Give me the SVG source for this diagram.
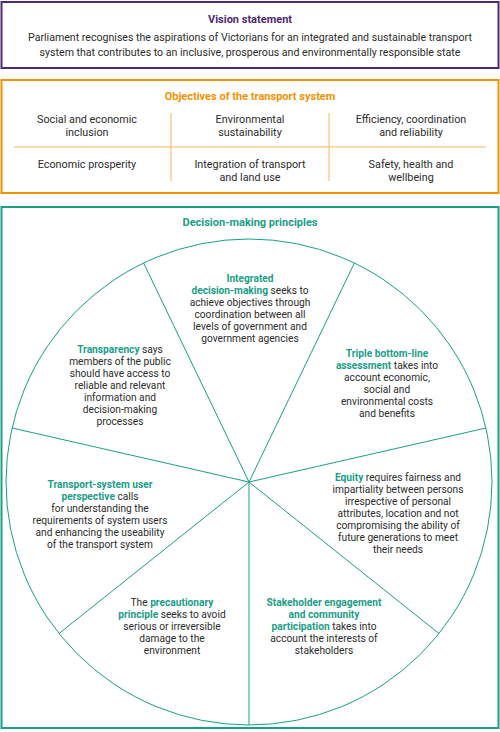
<svg xmlns="http://www.w3.org/2000/svg" width="500" height="732" viewBox="0 0 500 732">
<style>
text{font-family:Roboto,"Open Sans","DejaVu Sans",sans-serif;font-size:10.2px;fill:#2b2b2b;text-anchor:middle}
.g{fill:#1a9e87;font-weight:bold}
.vt{fill:#4f2a72;font-weight:bold;font-size:11px}
.ot{fill:#f39200;font-weight:bold;font-size:11px}
.dt{fill:#1a9e87;font-weight:bold;font-size:11px}
.vb{font-size:10.6px}
.ob{font-size:10.8px}
.sp{stroke:#1a9e87;stroke-width:1;fill:none}
</style>
<g id="vision">
<rect x="1.5" y="2" width="497" height="66" fill="#fff" stroke="#4f2a72" stroke-width="2"/>
<text class="vt" x="250" y="23">Vision statement</text>
<text class="vb" x="250" y="41">Parliament recognises the aspirations of Victorians for an integrated and sustainable transport</text>
<text class="vb" x="250" y="56">system that contributes to an inclusive, prosperous and environmentally responsible state</text>
</g>
<g id="objectives">
<rect x="1.5" y="80" width="497" height="113" fill="#fff" stroke="#f39200" stroke-width="2"/>
<text class="ot" x="250" y="100">Objectives of the transport system</text>
<g stroke="#f7b65a" stroke-width="1">
<line x1="171" y1="113" x2="171" y2="181"/>
<line x1="329" y1="113" x2="329" y2="181"/>
<line x1="14" y1="147" x2="486" y2="147"/>
</g>
<text class="ob" x="87" y="123">Social and economic</text>
<text class="ob" x="87" y="136">inclusion</text>
<text class="ob" x="250" y="123">Environmental</text>
<text class="ob" x="250" y="136">sustainability</text>
<text class="ob" x="411" y="123">Efficiency, coordination</text>
<text class="ob" x="411" y="136">and reliability</text>
<text class="ob" x="87" y="168">Economic prosperity</text>
<text class="ob" x="250" y="168">Integration of transport</text>
<text class="ob" x="250" y="181">and land use</text>
<text class="ob" x="411" y="168">Safety, health and</text>
<text class="ob" x="411" y="181">wellbeing</text>
</g>
<g id="principles">
<rect x="1.5" y="207" width="497" height="521" fill="#fff" stroke="#1a9e87" stroke-width="2"/>
<text class="dt" x="250" y="226">Decision-making principles</text>
<circle class="sp" cx="249" cy="482" r="243"/>
</g>
<g id="connectors" class="sp">
<line x1="249" y1="482" x2="354.4" y2="263"/>
<line x1="249" y1="482" x2="485.9" y2="428"/>
<line x1="249" y1="482" x2="439" y2="633.5"/>
<line x1="249" y1="482" x2="249" y2="725"/>
<line x1="249" y1="482" x2="59" y2="633.5"/>
<line x1="249" y1="482" x2="12.1" y2="428"/>
<line x1="249" y1="482" x2="143.6" y2="263"/>
</g>
<g id="integrated">
<text x="250" y="282"><tspan class="g">Integrated</tspan></text>
<text x="250" y="294"><tspan class="g">decision-making</tspan> seeks to</text>
<text x="250" y="306">achieve objectives through</text>
<text x="250" y="318">coordination between all</text>
<text x="250" y="330">levels of government and</text>
<text x="250" y="342">government agencies</text>
</g>
<g id="triple">
<text x="387" y="357"><tspan class="g">Triple bottom-line</tspan></text>
<text x="387" y="369"><tspan class="g">assessment</tspan> takes into</text>
<text x="387" y="381">account economic,</text>
<text x="387" y="393">social and</text>
<text x="387" y="405">environmental costs</text>
<text x="387" y="417">and benefits</text>
</g>
<g id="equity">
<text x="398" y="481"><tspan class="g">Equity</tspan> requires fairness and</text>
<text x="398" y="493">impartiality between persons</text>
<text x="398" y="505">irrespective of personal</text>
<text x="398" y="517">attributes, location and not</text>
<text x="398" y="529">compromising the ability of</text>
<text x="398" y="541">future generations to meet</text>
<text x="398" y="553">their needs</text>
</g>
<g id="stakeholder">
<text x="324" y="606"><tspan class="g">Stakeholder engagement</tspan></text>
<text x="324" y="618"><tspan class="g">and community</tspan></text>
<text x="324" y="630"><tspan class="g">participation</tspan> takes into</text>
<text x="324" y="642">account the interests of</text>
<text x="324" y="654">stakeholders</text>
</g>
<g id="precautionary">
<text x="172" y="606">The <tspan class="g">precautionary</tspan></text>
<text x="172" y="618"><tspan class="g">principle</tspan> seeks to avoid</text>
<text x="172" y="630">serious or irreversible</text>
<text x="172" y="642">damage to the</text>
<text x="172" y="654">environment</text>
</g>
<g id="usersystem">
<text x="100" y="488"><tspan class="g">Transport-system user</tspan></text>
<text x="100" y="500"><tspan class="g">perspective</tspan> calls</text>
<text x="100" y="512">for understanding the</text>
<text x="100" y="524">requirements of system users</text>
<text x="100" y="536">and enhancing the useability</text>
<text x="100" y="548">of the transport system</text>
</g>
<g id="transparency">
<text x="120" y="353"><tspan class="g">Transparency</tspan> says</text>
<text x="120" y="365">members of the public</text>
<text x="120" y="377">should have access to</text>
<text x="120" y="389">reliable and relevant</text>
<text x="120" y="401">information and</text>
<text x="120" y="413">decision-making</text>
<text x="120" y="425">processes</text>
</g>
</svg>
